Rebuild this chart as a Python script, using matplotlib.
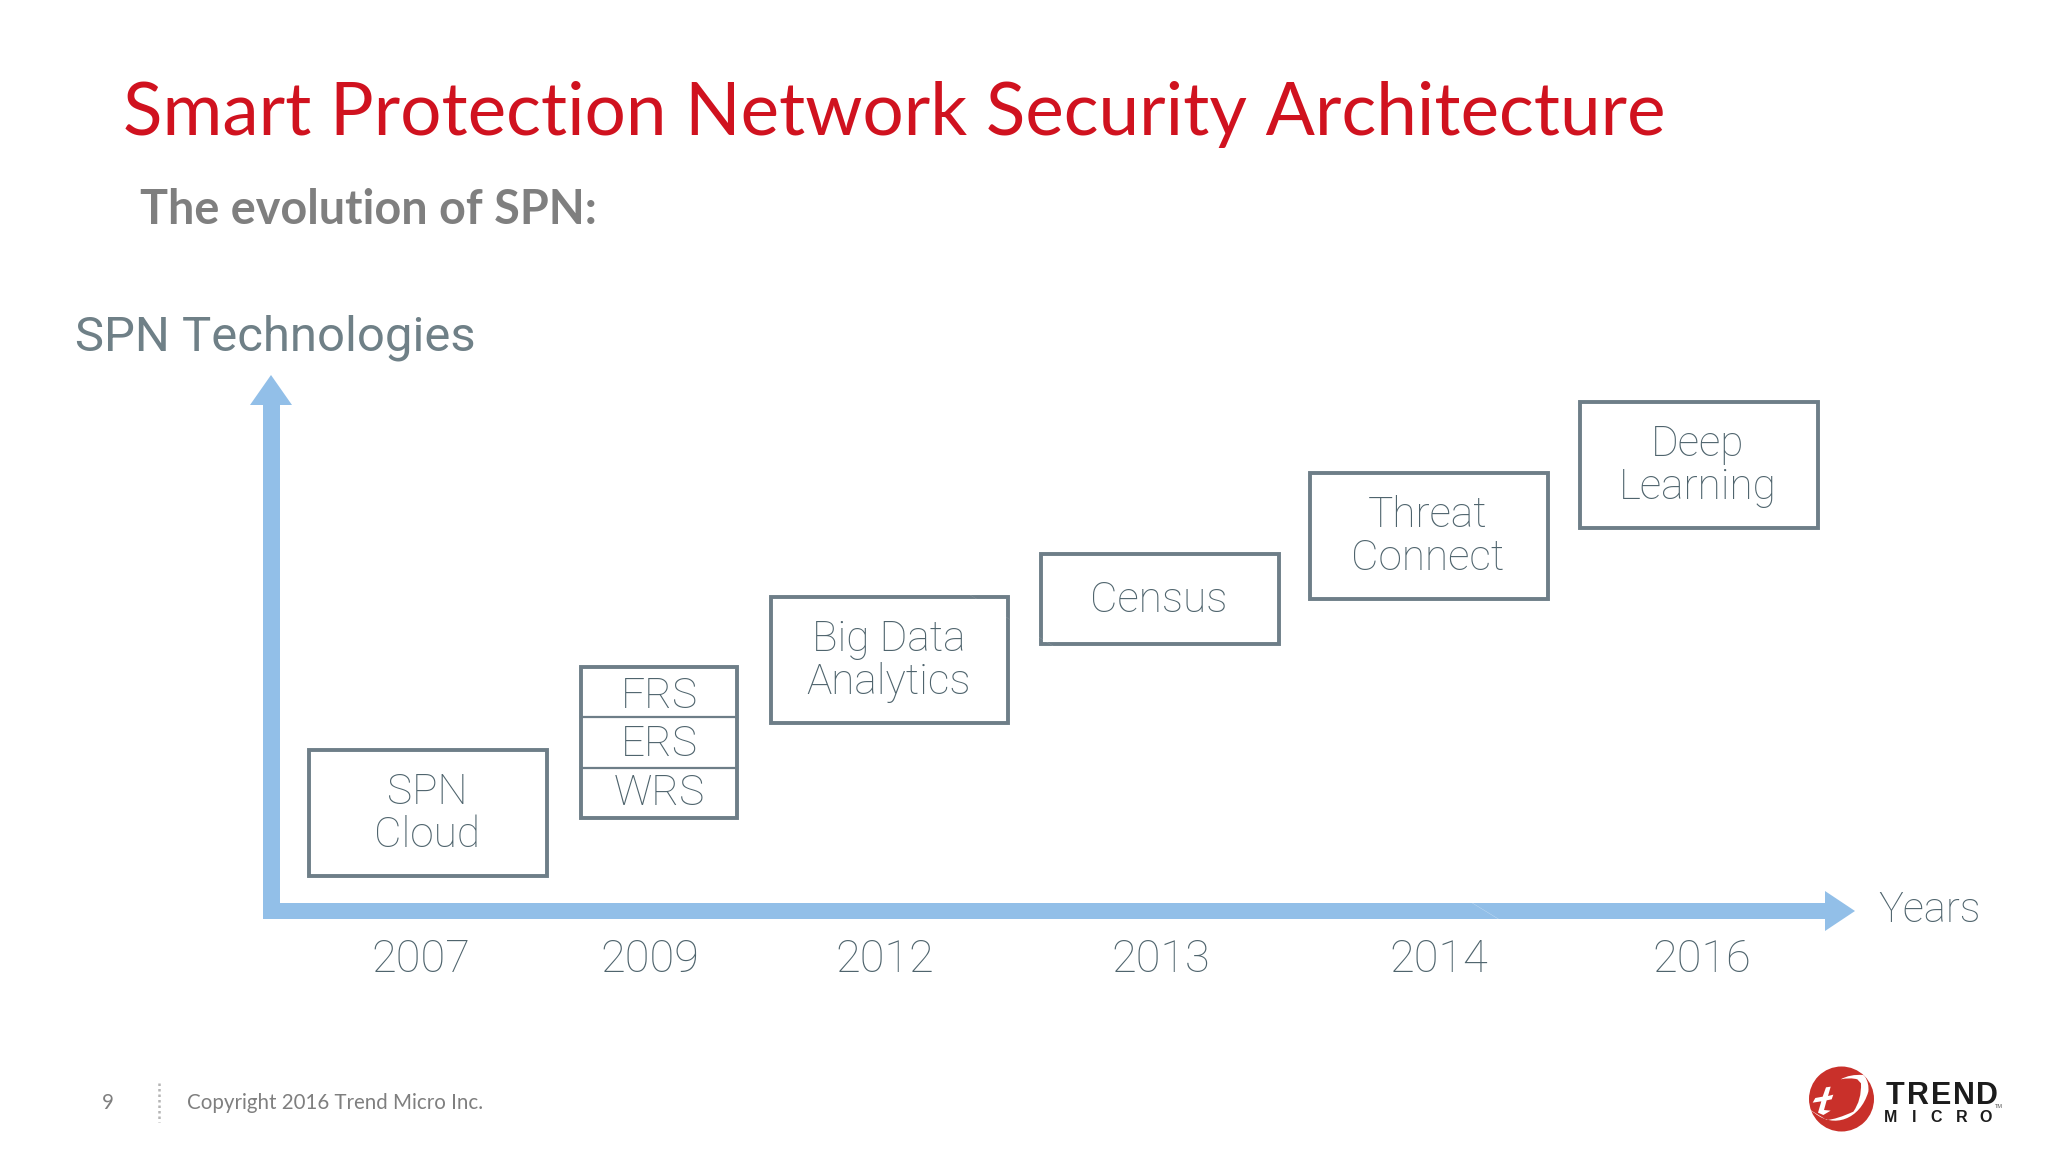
import matplotlib
matplotlib.use("Agg")
import matplotlib.pyplot as plt
from matplotlib.patches import Rectangle, Polygon, Circle, PathPatch
from matplotlib.path import Path

title = "Smart Protection Network Security Architecture"
subtitle = "The evolution of SPN:"
y_label = "SPN Technologies"
x_label = "Years"
years = ["2007", "2009", "2012", "2013", "2014", "2016"]
year_x = [421, 650, 885, 1161, 1439, 1702]
box_labels = ["SPN\nCloud", "Big Data\nAnalytics", "Census", "Threat\nConnect", "Deep\nLearning"]
box_left = [309, 771, 1041, 1310, 1580]
box_right = [547, 1008, 1279, 1548, 1818]
box_top = [750, 597, 554, 473, 402]
box_bottom = [876, 723, 644, 599, 528]
stack_labels = ["FRS", "ERS", "WRS"]
stack_edges = [667, 717, 768, 818]
stack_text_y = [696, 744, 793]
stack_left, stack_right = 581, 737
logo_word = ["T", "R", "E", "N", "D"]
logo_word_x = [1895, 1918, 1941, 1964, 1987]
logo_sub = ["M", "I", "C", "R", "O"]
logo_sub_x = [1891, 1914, 1936, 1962, 1986]

BLUE = "#92BFE8"
EDGE = "#6E7E88"
TXT = "#6F8087"
TXT_LIGHT = "#4F646D"

fig = plt.figure(figsize=(20.48, 11.52), dpi=100)
ax = fig.add_axes([0, 0, 1, 1])
ax.set_xlim(0, 2048)
ax.set_ylim(1152, 0)
ax.axis("off")

ax.text(123, 115, title, family="Lato", fontsize=52.5, color="#D0121F", va="center", ha="left")
ax.text(140, 210, subtitle, family="Lato", fontsize=33.7, weight="bold", color="#7F7F7F", va="center", ha="left")
ax.text(75, 338, y_label, family="Roboto", fontsize=35.3, color=TXT, va="center", ha="left")
ax.text(1878, 910, x_label, family="Roboto", weight="light", fontsize=30, color=TXT_LIGHT, va="center", ha="left")

# axes arrows
ax.add_patch(Rectangle((263, 400), 17, 519, fc=BLUE, ec="none"))
ax.add_patch(Polygon([[250, 405], [271, 375], [292, 405]], fc=BLUE, ec="none"))
ax.add_patch(Rectangle((263, 903), 1565, 16, fc=BLUE, ec="none"))
ax.add_patch(Polygon([[1825, 891], [1855, 911], [1825, 931]], fc=BLUE, ec="none"))

for lab, x in zip(years, year_x):
    ax.text(x, 960, lab, family="Roboto", weight="light", fontsize=32.5, color=TXT_LIGHT, va="center", ha="center")

for lab, l, r, t, b in zip(box_labels, box_left, box_right, box_top, box_bottom):
    ax.add_patch(Rectangle((l, t), r - l, b - t, fc="white", ec=EDGE, lw=2.8))
    ax.text((l + r) / 2 - 1, (t + b) / 2 + 1, lab, family="Roboto", weight="light", fontsize=30.5, color=TXT_LIGHT,
            va="center", ha="center", linespacing=1.05)

ax.add_patch(Rectangle((stack_left, stack_edges[0]), stack_right - stack_left,
                       stack_edges[-1] - stack_edges[0], fc="white", ec=EDGE, lw=2.8))
for e in stack_edges[1:-1]:
    ax.plot([stack_left, stack_right], [e, e], color=EDGE, lw=1.6)
for lab, y in zip(stack_labels, stack_text_y):
    ax.text((stack_left + stack_right) / 2, y, lab, family="Roboto", weight="light", fontsize=30.5,
            color=TXT_LIGHT, va="center", ha="center")

# footer
ax.text(108, 1103, "9", family="Lato", fontsize=14.8, color="#7F7F7F", va="center", ha="center")
ax.plot([159, 159], [1083, 1122], color="#B5B5B5", lw=1.8, ls=(0, (1, 1.2)))
ax.text(187, 1103, "Copyright 2016 Trend Micro Inc.", family="Lato", fontsize=14.8, color="#7F7F7F",
        va="center", ha="left")

# logo
ax.add_patch(Circle((1841.5, 1099), 32.5, fc="#C9302A", ec="none"))
def lp(zx, zy):
    return (1800 + zx / 3, 1060 + zy / 3)
swoosh = Path([lp(45, 160), lp(100, 205), lp(180, 180), lp(205, 95), lp(208, 70), lp(195, 50),
               lp(190, 45), lp(150, 42), lp(122, 58), lp(150, 52), lp(172, 58), lp(183, 70),
               lp(185, 120), lp(160, 155), lp(110, 178), lp(80, 180), lp(45, 160)],
              [Path.MOVETO, Path.CURVE4, Path.CURVE4, Path.CURVE4, Path.CURVE3, Path.CURVE3,
               Path.LINETO, Path.CURVE3, Path.CURVE3, Path.CURVE3, Path.CURVE3, Path.LINETO,
               Path.CURVE3, Path.CURVE3, Path.CURVE3, Path.CURVE3, Path.CURVE3])
ax.add_patch(PathPatch(swoosh, fc="white", ec="none"))
ax.add_patch(Polygon([lp(78, 82), lp(92, 80), lp(84, 108), lp(100, 104), lp(95, 118), lp(80, 121),
                      lp(72, 150), lp(92, 152), lp(70, 165), lp(54, 158), lp(64, 124), lp(38, 128),
                      lp(46, 114), lp(68, 110)],
                     fc="white", ec="none"))
for ch, x in zip(logo_word, logo_word_x):
    ax.text(x, 1096, ch, family="Liberation Sans", weight="bold", fontsize=22, color="#1C1C1C",
            va="center", ha="center")
for ch, x in zip(logo_sub, logo_sub_x):
    ax.text(x, 1118, ch, family="Liberation Sans", weight="bold", fontsize=11.5, color="#1C1C1C",
            va="center", ha="center")
ax.text(1995, 1107, "TM", family="Liberation Sans", fontsize=4, color="#555555", va="center", ha="left")

fig.savefig("out.png", dpi=100, facecolor="white")
